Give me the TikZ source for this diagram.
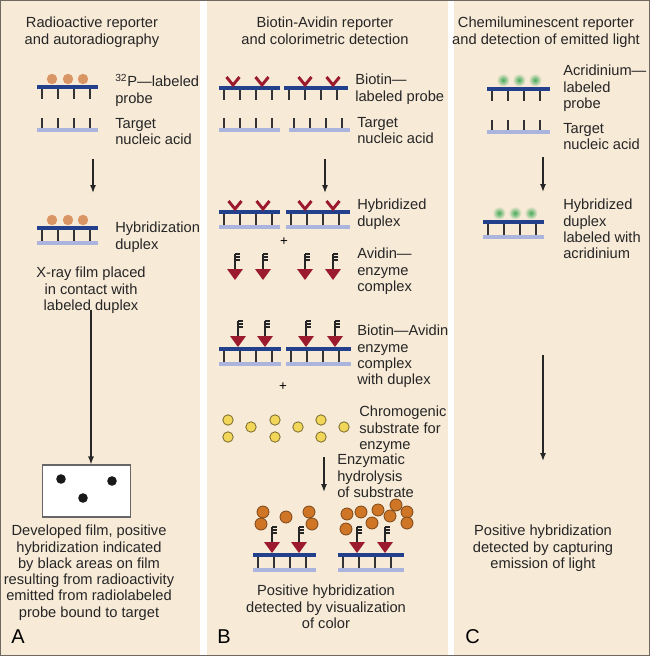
\documentclass[tikz,border=0pt]{standalone}
\usepackage{fontspec}
\setmainfont{Liberation Sans}
\usetikzlibrary{arrows.meta}
\definecolor{panelbg}{RGB}{247, 234, 215}
\definecolor{framegray}{RGB}{110, 104, 96}
\definecolor{probeblue}{RGB}{34, 64, 140}
\definecolor{targetblue}{RGB}{170, 180, 220}
\definecolor{biotinred}{RGB}{155, 26, 46}
\definecolor{tanorange}{RGB}{217, 149, 99}
\definecolor{hydorange}{RGB}{206, 117, 38}
\definecolor{subyellow}{RGB}{241, 214, 90}
\definecolor{glowgreen}{RGB}{70, 170, 90}

\tikzset{
    lbl/.style={anchor=north west, align=left, inner sep=0pt, text=black!85, font=\fontsize{11}{12.2}\selectfont},
    ctr/.style={anchor=north, align=center, inner sep=0pt, text=black!85, font=\fontsize{11}{12.2}\selectfont},
    tick/.style={line width=1.1pt, black!80},
    stepar/.style={line width=1pt, black!85, -{Latex[length=6pt,width=4.5pt]}}
}

% dark probe strand, ticks downward
\newcommand{\probestrand}[3]{%
    \fill[probeblue] (#1,#2-2.2) rectangle (#1+#3,#2+2.2);
    \foreach \t in {5,21,37,53} {\draw[tick] (#1+\t,#2+2) -- ++(0,10);}
}
% light target strand, ticks upward
\newcommand{\targetstrand}[3]{%
    \fill[targetblue] (#1,#2-2.2) rectangle (#1+#3,#2+2.2);
    \foreach \t in {5,21,37,53} {\draw[tick] (#1+\t,#2-2) -- ++(0,-10);}
}
% probe hybridized to target
\newcommand{\duplexpair}[3]{%
    \fill[targetblue] (#1,#2+13) rectangle (#1+#3,#2+17.4);
    \foreach \t in {5,21,37,53} {\draw[tick] (#1+\t,#2+2) -- (#1+\t,#2+13);}
    \fill[probeblue] (#1,#2-2.2) rectangle (#1+#3,#2+2.2);
}
% biotin V mark
\newcommand{\biotin}[2]{%
    \draw[biotinred, line width=2.2pt] (#1-6.5,#2-11) -- (#1,#2-3) -- (#1+6.5,#2-11);
}
% avidin-enzyme, #2 = tip of the enzyme
\newcommand{\avidin}[2]{%
    \draw[black!85, line width=1pt] (#1,#2-26) -- (#1,#2-6);
    \foreach \p in {0,3,6} {\draw[black!85, line width=0.8pt] (#1,#2-26+\p) -- ++(5,0);}
    \fill[biotinred] (#1-8,#2-11) -- (#1+8,#2-11) -- (#1,#2) -- cycle;
}

\begin{document}
\begin{tikzpicture}[x=0.75pt, y=-0.75pt]
    \useasboundingbox (0,0) rectangle (650,657);
    % Panels
    \fill[panelbg] (0,0) rectangle (650,656);
    \fill[white] (200,0) rectangle (207,656);
    \fill[white] (448,0) rectangle (454,656);
    \draw[framegray, line width=0.8pt] (0.4,0.4) rectangle (649.6,655.6);

    % Panel A: radioactive
    \node[ctr] (headA) at (92,17) {Radioactive reporter\\and autoradiography};
    \probestrand{37}{87}{61}
    \foreach \x in {52,68,83} {\fill[tanorange] (\x,79) circle (5.2);}
    \node[lbl] (probeA) at (115,74) {\textsuperscript{32}P---labeled\\probe};
    \targetstrand{37}{130}{61}
    \node[lbl] (targA) at (115,118) {Target\\nucleic acid};
    \coordinate (a1) at (93,159);
    \coordinate (a2) at (93,193);
    \draw[stepar] (a1) -- (a2);
    \duplexpair{37}{228}{61}
    \foreach \x in {52,68,83} {\fill[tanorange] (\x,220) circle (5.2);}
    \node[lbl] (hybA) at (115,222) {Hybridization\\duplex};
    \node[ctr] (xray) at (91,267) {X-ray film placed\\in contact with\\labeled duplex};
    \node[draw=black!60, fill=white, line width=0.8pt, minimum width=65.5pt, minimum height=39pt, inner sep=0pt] (film) at (86.5,491) {};
    \foreach \x/\y in {61/479, 112/481, 83/498} {\fill[black!90] (\x,\y) circle (4.8);}
    \draw[stepar] (xray.south) ++(0,-4) -- (xray.south |- film.north);
    \node[ctr] (devA) at (89,525) {Developed film, positive\\hybridization indicated\\by black areas on film\\resulting from radioactivity\\emitted from radiolabeled\\probe bound to target};
    \node[anchor=west, inner sep=0pt, font=\fontsize{15}{15}\selectfont] (letA) at (11,637) {A};

    % Panel B: biotin-avidin
    \node[ctr] (headB) at (325,17) {Biotin-Avidin reporter\\and colorimetric detection};
    \probestrand{219}{88}{61}
    \probestrand{284}{88}{64}
    \foreach \x in {233,262,305,333} {\biotin{\x}{88}}
    \node[lbl] (probeB) at (355,74) {Biotin---\\labeled probe};
    \targetstrand{219}{130}{61}
    \targetstrand{289}{130}{61}
    \node[lbl] (targB) at (357,117) {Target\\nucleic acid};
    \coordinate (b1) at (325,159);
    \coordinate (b2) at (325,193);
    \draw[stepar] (b1) -- (b2);
    \duplexpair{219}{212}{61}
    \duplexpair{286}{212}{64}
    \foreach \x in {235,263,305,333} {\biotin{\x}{212}}
    \node[lbl] (hybB) at (357,199) {Hybridized\\duplex};
    \node[inner sep=0pt, font=\fontsize{10}{10}\selectfont] (plus1) at (284,242) {+};
    \foreach \x in {235,263,305,333} {\avidin{\x}{280}}
    \node[lbl] (avB) at (357,248) {Avidin---\\enzyme\\complex};
    \duplexpair{219}{349}{62}
    \duplexpair{286}{349}{65}
    \foreach \x in {238,265,306,335} {\avidin{\x}{347}}
    \node[lbl] (cplxB) at (357,325) {Biotin---Avidin\\enzyme\\complex\\with duplex};
    \node[inner sep=0pt, font=\fontsize{10}{10}\selectfont] (plus2) at (283,387) {+};
    \foreach \x/\y in {228/420, 228/437, 251/427, 275/420, 275/437, 298/427, 321/420, 321/437, 344/427}
        {\filldraw[fill=subyellow, draw=black!50!subyellow, line width=0.6pt] (\x,\y) circle (5.2);}
    \node[lbl] (chromB) at (359,406) {Chromogenic\\substrate for\\enzyme};
    \coordinate (b3) at (324,457);
    \coordinate (b4) at (324,492);
    \draw[stepar] (b3) -- (b4);
    \node[lbl] (enzB) at (337,454) {Enzymatic\\hydrolysis\\of substrate};
    \duplexpair{253}{555}{63}
    \duplexpair{338}{555}{66}
    \foreach \x in {272,299,357,385} {\avidin{\x}{553}}
    \foreach \x/\y in {263/512, 261/524, 286/517, 309/512, 312/524,
                       347/514, 346/529, 361/512, 372/523, 378/510, 390/516, 396/505, 407/512, 407/523}
        {\filldraw[fill=hydorange, draw=black!40!hydorange, line width=0.6pt] (\x,\y) circle (6);}
    \node[ctr] (posB) at (326,585) {Positive hybridization\\detected by visualization\\of color};
    \node[anchor=west, inner sep=0pt, font=\fontsize{15}{15}\selectfont] (letB) at (217,637) {B};

    % Panel C: chemiluminescent
    \node[ctr] (headC) at (546,17) {Chemiluminescent reporter\\and detection of emitted light};
    \probestrand{487}{89}{63}
    \foreach \x in {503,519,535} {\shade[inner color=glowgreen, outer color=panelbg] (\x,80) circle (6.5);}
    \node[lbl] (probeC) at (563,65) {Acridinium---\\labeled\\probe};
    \targetstrand{487}{132}{63}
    \node[lbl] (targC) at (563,123) {Target\\nucleic acid};
    \coordinate (c1) at (543,157);
    \coordinate (c2) at (543,192);
    \draw[stepar] (c1) -- (c2);
    \duplexpair{483}{222}{61}
    \foreach \x in {499,515,531} {\shade[inner color=glowgreen, outer color=panelbg] (\x,213) circle (6.5);}
    \node[lbl] (hybC) at (563,199) {Hybridized\\duplex\\labeled with\\acridinium};
    \coordinate (c3) at (543,355);
    \coordinate (c4) at (543,461);
    \draw[stepar] (c3) -- (c4);
    \node[ctr] (posC) at (543,525) {Positive hybridization\\detected by capturing\\emission of light};
    \node[anchor=west, inner sep=0pt, font=\fontsize{15}{15}\selectfont] (letC) at (465,637) {C};
\end{tikzpicture}
\end{document}
